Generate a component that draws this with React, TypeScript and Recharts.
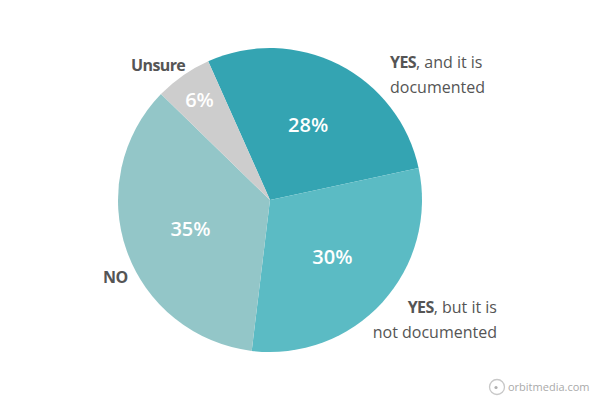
import React from "react";
import { PieChart, Pie, Cell } from "recharts";

const answers = ["YES, and it is documented", "YES, but it is not documented", "NO", "Unsure"];
const shares = [28, 30, 35, 6];
const colors = ["#34a4b2", "#5bbbc4", "#93c6c8", "#cdcdcd"];

const data = answers.map((name, i) => ({ name, value: shares[i] }));

// where the outside captions sit, relative to the pie centre
const captionLayout: Record<string, { dx: number; dy: number; anchor: "start" | "end"; lines: [string, string][] }> = {
  "YES, and it is documented": { dx: 120, dy: -132, anchor: "start", lines: [["YES", ", and it is"], ["", "documented"]] },
  "YES, but it is not documented": { dx: 227, dy: 113, anchor: "end", lines: [["YES", ", but it is"], ["", "not documented"]] },
  NO: { dx: -167, dy: 83, anchor: "start", lines: [["NO", ""]] },
  Unsure: { dx: -139, dy: -129, anchor: "start", lines: [["Unsure", ""]] },
};

const RAD = Math.PI / 180;
const font = "'Open Sans', sans-serif";

function renderLabel(props: any) {
  const { cx, cy, midAngle, outerRadius, index, name, value } = props;
  const r = index === 3 ? outerRadius * 0.81 : outerRadius * 0.555;
  const x = cx + r * Math.cos(-midAngle * RAD);
  const y = cy + r * Math.sin(-midAngle * RAD);
  const c = captionLayout[name];
  return (
    <g>
      <text x={x} y={y} fill="#fff" fontSize={20} fontWeight={600} fontFamily={font} textAnchor="middle" dominantBaseline="central">
        {value}%
      </text>
      {c.lines.map(([bold, rest], k) => (
        <text key={k} x={cx + c.dx} y={cy + c.dy + k * 25} fill="#555" fontSize={16} fontFamily={font} textAnchor={c.anchor}>
          {bold && <tspan fontWeight={700} letterSpacing={-0.6}>{bold}</tspan>}
          {rest && <tspan>{rest}</tspan>}
        </text>
      ))}
    </g>
  );
}

export default function App() {
  return (
    <div style={{ position: "relative", width: 600, height: 420, background: "#fff" }}>
      <style>{`body{margin:0}`}</style>
      <PieChart width={600} height={420} margin={{ top: 0, right: 0, bottom: 0, left: 0 }}>
        <Pie
          data={data}
          dataKey="value"
          nameKey="name"
          cx={270}
          cy={200}
          outerRadius={152}
          startAngle={114}
          endAngle={-246}
          stroke="none"
          labelLine={false}
          label={renderLabel}
          isAnimationActive={false}
        >
          {data.map((d, i) => (
            <Cell key={d.name} fill={colors[i]} />
          ))}
        </Pie>
      </PieChart>
      <svg width={110} height={24} style={{ position: "absolute", left: 486, top: 376 }}>
        <circle cx={11} cy={11} r={7.5} fill="none" stroke="#c8c8c8" strokeWidth={1.3} />
        <circle cx={10} cy={11.5} r={1.6} fill="#b0b0b0" />
        <text x={22} y={15} fill="#aaa" fontSize={11} fontFamily={font}>orbitmedia.com</text>
      </svg>
    </div>
  );
}
